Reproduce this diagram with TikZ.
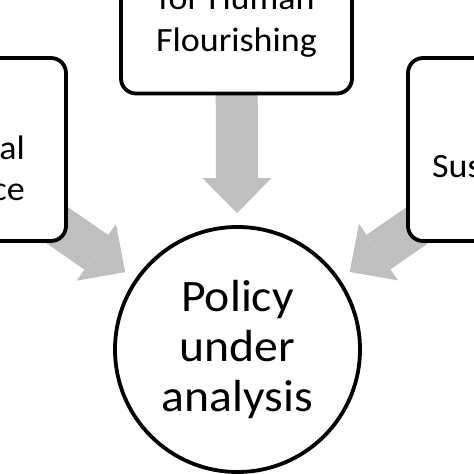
\documentclass[tikz,border=0pt]{standalone}
\usepackage{fontspec}
\setmainfont{Carlito}[FakeStretch=1.06]
\usetikzlibrary{arrows.meta,backgrounds}
\definecolor{arrowgray}{RGB}{191,191,191}
\begin{document}
\begin{tikzpicture}[x=1pt,y=1pt]
  \tikzstyle{box}=[draw,line width=3.8pt,rounded corners=15pt,fill=white,inner sep=0pt]
  \tikzstyle{bigarrow}=[draw=arrowgray,line width=42pt,-{Triangle[length={35pt 0 0},width={69pt 0 0},line width=0pt]},shorten >=12pt,shorten <=-30pt]
  \useasboundingbox (0,0) rectangle (474,474);
  \node [box,minimum width=231pt,minimum height=144pt,align=center,font=\fontsize{34}{42}\selectfont] (top) at (236.5,452.5) {for Human\\Flourishing};
  \node [box,minimum width=238pt,minimum height=183pt] (left) at (-53,324.5) {};
  \node [box,minimum width=238pt,minimum height=183pt] (right) at (527,324.5) {};
  \node [anchor=east,inner sep=0pt,align=right,font=\fontsize{34}{41}\selectfont] (lefttext) at (25,306) {al\\ce};
  \node [anchor=base west,inner sep=0pt,font=\fontsize{34}{41}\selectfont] (righttext) at (432,296.7) {Sus};
  \node [draw,circle,line width=3.8pt,minimum size=245pt,align=center,font=\fontsize{45}{50}\selectfont] (pol) at (237.5,124.5) {Policy\\under\\analysis};
  \begin{scope}[on background layer]
    \draw [bigarrow] (top) -- (pol);
    \draw [bigarrow] (left) -- (pol);
    \draw [bigarrow] (right) -- (pol);
  \end{scope}
\end{tikzpicture}
\end{document}
